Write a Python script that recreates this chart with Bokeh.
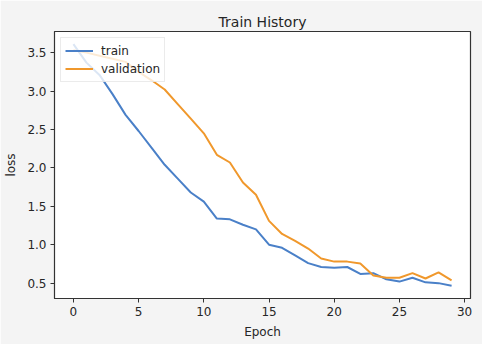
from bokeh.plotting import figure
from bokeh.models import Range1d, FixedTicker, Legend, LegendItem, NumeralTickFormatter
from bokeh.embed import file_html
from bokeh.resources import INLINE

epochs = list(range(30))
train_loss = [3.61, 3.37, 3.21, 2.96, 2.69, 2.48, 2.26, 2.04, 1.86, 1.68, 1.56,
              1.34, 1.33, 1.26, 1.20, 1.00, 0.96, 0.86, 0.76, 0.71, 0.70, 0.71,
              0.62, 0.63, 0.55, 0.52, 0.57, 0.51, 0.50, 0.465]
val_loss = [3.53, 3.50, 3.46, 3.42, 3.38, 3.25, 3.14, 3.02, 2.83, 2.64, 2.45,
            2.17, 2.07, 1.81, 1.65, 1.31, 1.14, 1.05, 0.95, 0.82, 0.78, 0.78,
            0.755, 0.60, 0.57, 0.57, 0.63, 0.56, 0.64, 0.535]
x_ticks = [0, 5, 10, 15, 20, 25, 30]
y_ticks = [0.5, 1.0, 1.5, 2.0, 2.5, 3.0, 3.5]
series_names = ["train", "validation"]
series_colors = ["#4a80c8", "#f0982c"]

FONT = "DejaVu Sans"
TXT = "#262626"
BG = "#f4f4f4"

p = figure(width=482, height=344, output_backend="svg", toolbar_location=None,
           x_range=Range1d(-1.45, 30.45), y_range=Range1d(0.30, 3.775),
           min_border_left=54, min_border_right=12, min_border_top=31,
           min_border_bottom=46)
p.background_fill_color = "white"
p.border_fill_color = BG
p.outline_line_color = "#333333"
p.outline_line_width = 1.2
p.xgrid.visible = False
p.ygrid.visible = False

p.title.text = "Train History"
p.title.align = "center"
p.title.text_font = FONT
p.title.text_font_size = "14px"
p.title.text_font_style = "normal"
p.title.text_color = TXT
p.title.standoff = 4

for ax in (p.xaxis[0], p.yaxis[0]):
    ax.axis_line_color = "#333333"
    ax.major_tick_line_color = "#333333"
    ax.major_tick_out = 4
    ax.major_tick_in = 0
    ax.minor_tick_out = 0
    ax.minor_tick_in = 0
    ax.major_label_text_font = FONT
    ax.major_label_text_font_size = "12px"
    ax.major_label_text_color = TXT
    ax.axis_label_text_font = FONT
    ax.axis_label_text_font_size = "12px"
    ax.axis_label_text_font_style = "normal"
    ax.axis_label_text_color = TXT
    ax.major_label_standoff = 4
    ax.axis_label_standoff = 6

p.xaxis.ticker = FixedTicker(ticks=x_ticks)
p.yaxis.ticker = FixedTicker(ticks=y_ticks)
p.yaxis.formatter = NumeralTickFormatter(format="0.0")
p.xaxis.axis_label = "Epoch"
p.yaxis.axis_label = "loss"

r1 = p.line(epochs, train_loss, line_color=series_colors[0], line_width=2)
r2 = p.line(epochs, val_loss, line_color=series_colors[1], line_width=2)

legend = Legend(items=[LegendItem(label=series_names[0], renderers=[r1]),
                       LegendItem(label=series_names[1], renderers=[r2])],
                location="top_left")
legend.margin = 6
legend.padding = 4
legend.spacing = 1
legend.label_height = 17
legend.glyph_height = 17
legend.glyph_width = 28
legend.label_standoff = 8
legend.label_text_font = FONT
legend.label_text_font_size = "12px"
legend.label_text_color = TXT
legend.background_fill_alpha = 0.8
legend.border_line_color = "#d8d8d8"
legend.border_line_width = 1
p.add_layout(legend)

open("out.html", "w").write(file_html(p, INLINE))
